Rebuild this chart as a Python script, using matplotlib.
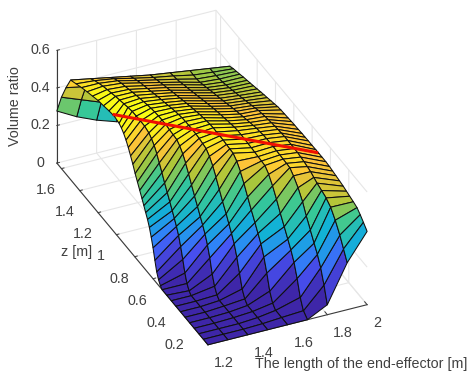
import matplotlib
matplotlib.use("Agg")
import numpy as np
import matplotlib.pyplot as plt
from matplotlib.colors import LinearSegmentedColormap, Normalize

plt.rcParams['font.family'] = ['Liberation Sans', 'DejaVu Sans']

lengths = [1.2, 1.3, 1.4, 1.5, 1.6, 1.7, 1.8, 1.9, 2.0]

pos_12 = [0, .05, .10, .15, .20, .25, .30, .35, .40, .45, .50, .52, .54, .56, .58, .60, .62, .64, .66, .68, .70, .72, .745, .77, .795, .82, .845, .87, .895, .92, .945, .97, 1.02, 1.08, 1.14, 1.2, 1.26, 1.32, 1.38, 1.44, 1.5, 1.55, 1.6, 1.65]
pos_13 = [0, .05, .10, .15, .20, .25, .30, .35, .40, .423, .446, .469, .492, .515, .538, .561, .584, .607, .633, .661, .69, .719, .748, .776, .805, .834, .863, .909, .954, 1.0, 1.045, 1.091, 1.136, 1.182, 1.227, 1.273, 1.318, 1.364, 1.409, 1.455, 1.5, 1.55, 1.6, 1.65]
pos_14 = [0, .05, .10, .155, .205, .26, .31, .336, .362, .388, .414, .44, .466, .492, .518, .548, .58, .613, .645, .678, .71, .743, .775, .815, .856, .896, .936, .976, 1.017, 1.057, 1.097, 1.137, 1.178, 1.218, 1.258, 1.298, 1.339, 1.379, 1.419, 1.46, 1.5, 1.55, 1.6, 1.65]
pos_15 = [0, .055, .11, .165, .22, .249, .278, .307, .336, .365, .394, .423, .452, .491, .5275, .564, .60, .636, .6725, .71, .748, .785, .823, .861, .898, .936, .974, 1.011, 1.049, 1.086, 1.124, 1.162, 1.199, 1.237, 1.275, 1.312, 1.35, 1.388, 1.425, 1.463, 1.5, 1.55, 1.6, 1.65]
pos_16 = [0, .065, .13, .162, .194, .226, .258, .29, .322, .355, .395, .435, .475, .515, .555, .595, .631, .667, .704, .74, .776, .812, .848, .885, .921, .957, .993, 1.029, 1.066, 1.102, 1.138, 1.174, 1.21, 1.247, 1.283, 1.319, 1.355, 1.391, 1.428, 1.464, 1.5, 1.55, 1.6, 1.65]
pos_17 = [0, .044, .078, .112, .146, .18, .214, .2525, .295, .3375, .38, .4225, .465, .502, .539, .576, .613, .65, .687, .724, .761, .798, .835, .872, .909, .946, .983, 1.02, 1.056, 1.093, 1.13, 1.167, 1.204, 1.241, 1.278, 1.315, 1.352, 1.389, 1.426, 1.463, 1.5, 1.55, 1.6, 1.65]
pos_18 = [0, .036, .072, .108, .144, .185, .23, .27, .32, .37, .41, .446, .483, .519, .555, .592, .628, .664, .7, .737, .773, .809, .846, .882, .918, .955, .991, 1.027, 1.064, 1.1, 1.136, 1.172, 1.209, 1.245, 1.281, 1.318, 1.354, 1.39, 1.427, 1.463, 1.5, 1.55, 1.6, 1.65]
pos_19 = [0, .04, .08, .13, .18, .23, .28, .33, .365, .40, .436, .472, .507, .543, .578, .614, .649, .685, .72, .756, .791, .827, .862, .898, .933, .969, 1.005, 1.04, 1.076, 1.111, 1.147, 1.182, 1.218, 1.253, 1.289, 1.324, 1.36, 1.395, 1.431, 1.466, 1.5, 1.55, 1.6, 1.65]
pos_20 = [0, .04, .075, .11, .15, .19, .225, .26, .30, .34, .375, .41, .45, .49, .525, .56, .60, .64, .675, .71, .75, .79, .825, .86, .90, .94, .975, 1.01, 1.05, 1.09, 1.125, 1.16, 1.20, 1.24, 1.275, 1.31, 1.35, 1.39, 1.425, 1.46, 1.5, 1.55, 1.6, 1.65]

ratio_12 = [0, 0, 0, 0, 0, 0, 0, 0, 0, 0, 0, .01, .03, .06, .11, .165, .21, .25, .28, .305, .33, .355, .385, .415, .445, .48, .51, .54, .565, .585, .60, .61, .617, .612, .604, .597, .585, .573, .56, .545, .53, .46, .38, .277]
ratio_13 = [0, 0, 0, 0, 0, 0, 0, 0, 0, .013, .038, .081, .14, .195, .241, .275, .304, .332, .363, .396, .43, .468, .503, .535, .562, .581, .595, .604, .605, .604, .603, .597, .59, .583, .576, .567, .559, .55, .539, .526, .51, .44, .34, .22]
ratio_14 = [0, 0, 0, 0, 0, 0, 0, .015, .046, .096, .167, .221, .263, .296, .326, .361, .398, .438, .478, .516, .546, .569, .584, .587, .59, .594, .594, .593, .59, .586, .58, .574, .567, .56, .553, .545, .537, .53, .52, .507, .49, .41, .30, .175]
ratio_15 = [0, 0, 0, 0, 0, .018, .054, .122, .189, .244, .282, .316, .352, .394, .438, .481, .52, .55, .57, .575, .58, .582, .583, .583, .582, .58, .575, .57, .564, .557, .55, .544, .537, .53, .522, .515, .507, .5, .491, .481, .47, .38, .25, .14]
ratio_16 = [0, 0, 0, .02, .065, .143, .21, .26, .297, .335, .379, .425, .473, .514, .545, .564, .566, .568, .57, .571, .571, .572, .57, .566, .562, .557, .551, .545, .539, .532, .525, .518, .511, .504, .496, .489, .482, .474, .466, .458, .45, .36, .23, .12]
ratio_17 = [0, .022, .073, .154, .22, .266, .304, .347, .393, .444, .49, .526, .548, .55, .552, .554, .556, .557, .559, .56, .56, .557, .552, .547, .541, .536, .53, .524, .517, .51, .502, .495, .487, .48, .472, .465, .458, .45, .444, .44, .435, .34, .21, .10]
ratio_18 = [.053, .137, .208, .258, .297, .342, .39, .442, .488, .522, .542, .544, .545, .546, .547, .548, .548, .548, .546, .542, .539, .533, .527, .521, .515, .508, .502, .495, .487, .48, .472, .465, .458, .451, .444, .436, .429, .422, .418, .418, .42, .33, .2, .09]
ratio_19 = [.25, .30, .35, .40, .44, .46, .47, .48, .49, .50, .506, .511, .515, .518, .519, .52, .52, .52, .518, .516, .513, .51, .506, .502, .497, .492, .484, .476, .469, .461, .454, .447, .44, .433, .426, .42, .414, .41, .407, .405, .405, .32, .2, .085]
ratio_20 = [.39, .415, .435, .452, .46, .466, .472, .478, .483, .487, .491, .495, .497, .497, .497, .497, .496, .496, .495, .495, .493, .492, .491, .489, .487, .485, .482, .476, .47, .463, .458, .452, .445, .438, .432, .426, .42, .412, .406, .40, .39, .31, .2, .08]

peak_length = [1.2, 2.0]
peak_position = [1.04, 0.535]
peak_ratio = [0.617, 0.495]

x_ticks = [1.2, 1.4, 1.6, 1.8, 2.0]
x_labels = ['1.2', '1.4', '1.6', '1.8', '2']
y_ticks = [0.2, 0.4, 0.6, 0.8, 1.0, 1.2, 1.4, 1.6]
y_labels = ['0.2', '0.4', '0.6', '0.8', '1', '1.2', '1.4', '1.6']
z_ticks = [0, 0.2, 0.4, 0.6]
z_labels = ['0', '0.2', '0.4', '0.6']

parula = LinearSegmentedColormap.from_list('parula', [
    (0.2422, 0.1504, 0.6603), (0.2810, 0.3228, 0.9579), (0.1786, 0.5289, 0.9682),
    (0.0689, 0.6948, 0.8394), (0.2161, 0.7843, 0.5923), (0.6720, 0.7793, 0.2227),
    (0.9970, 0.7659, 0.2199), (0.9769, 0.9839, 0.0805)])

W, H = 474, 382
fig = plt.figure(figsize=(W / 100, H / 100), dpi=100)
side = 412.6
ax = fig.add_axes([0.1 / W, -7.4 / H, side / W, side / H], projection='3d', proj_type='ortho')
ax.computed_zorder = False
ax.patch.set_alpha(0)
ax.view_init(elev=33.4, azim=-114.6)
ax.set_box_aspect((175, 363, 135), zoom=1)

Y = np.array([pos_12, pos_13, pos_14, pos_15, pos_16, pos_17, pos_18, pos_19, pos_20]).T
X = np.tile(np.array(lengths), (Y.shape[0], 1))
Z = np.array([ratio_12, ratio_13, ratio_14, ratio_15, ratio_16, ratio_17, ratio_18, ratio_19, ratio_20]).T
colors = parula(Normalize(0, 0.6)(Z))
ax.plot_surface(X, Y, Z, rstride=1, cstride=1, facecolors=colors, shade=False,
                edgecolor='#101010', linewidth=0.75, antialiased=True, zorder=2)
ax.plot(peak_length, peak_position, peak_ratio, color='#f01000', lw=2.2, zorder=5, solid_capstyle='butt')

ax.set_xlim(1.2, 2.0, view_margin=0)
ax.set_ylim(0, 1.65, view_margin=0)
ax.set_zlim(0, 0.6, view_margin=0)
ax.set_xticks(x_ticks, x_labels)
ax.set_yticks(y_ticks, y_labels)
ax.set_zticks(z_ticks, z_labels)

for axis, pad in ((ax.xaxis, -2), (ax.yaxis, 7), (ax.zaxis, 0)):
    axis.set_pane_color((1, 1, 1, 0))
    axis.pane.set_edgecolor((1, 1, 1, 0))
    axis.line.set_color('#3a3a3a')
    axis.line.set_linewidth(0.8)
    axis._axinfo['grid'].update(color='#e6e6e6', linewidth=0.8)
    axis._axinfo['tick'].update(inward_factor=0.0, outward_factor=0.2, linewidth={True: 0.7, False: 0.5})
    axis.set_tick_params(labelsize=10.3, labelcolor='#404040', color='#3a3a3a', pad=pad)

ax.xaxis.set_ticks_position('lower')
ax.yaxis.set_ticks_position('lower')
ax.zaxis.set_ticks_position('upper')
for label in ax.get_xticklabels():
    label.set_ha('left')

fig.text(361 / W, 1 - 364 / H, 'The length of the end-effector [m]', ha='center', va='center', fontsize=10.3, color='#404040')
fig.text(77 / W, 1 - 252 / H, 'z [m]', ha='center', va='center', fontsize=10.3, color='#404040')
fig.text(15 / W, 1 - 106 / H, 'Volume ratio', ha='center', va='center', rotation=90, fontsize=10.3, color='#404040')

fig.savefig('out.png', dpi=100, facecolor='white')
